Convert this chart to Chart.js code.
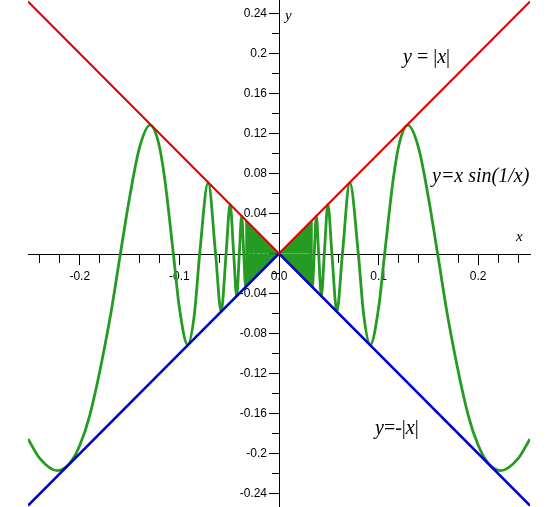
<!DOCTYPE html>
<html>
<head>
<meta charset="utf-8">
<script src="https://cdn.jsdelivr.net/npm/chart.js@4.4.1/dist/chart.umd.min.js"></script>
<style>
  html, body { margin: 0; padding: 0; background: #ffffff; }
  #wrap { width: 560px; height: 507px; }
</style>
</head>
<body>
<div id="wrap"><canvas id="c" width="560" height="507"></canvas></div>
<script>
// ---- data ----
const X_MINOR = [-0.24,-0.22,-0.2,-0.18,-0.16,-0.14,-0.12,-0.1,-0.08,-0.06,-0.04,-0.02,0,0.02,0.04,0.06,0.08,0.1,0.12,0.14,0.16,0.18,0.2,0.22,0.24];
const X_MAJOR = [-0.2,-0.1,0,0.1,0.2];
const X_LABELS = ['-0.2','-0.1','0.0','0.1','0.2'];
const Y_MINOR = [-0.24,-0.22,-0.2,-0.18,-0.16,-0.14,-0.12,-0.1,-0.08,-0.06,-0.04,-0.02,0,0.02,0.04,0.06,0.08,0.1,0.12,0.14,0.16,0.18,0.2,0.22,0.24];
const Y_MAJOR = [-0.24,-0.2,-0.16,-0.12,-0.08,-0.04,0,0.04,0.08,0.12,0.16,0.2,0.24];
const Y_LABELS = ['-0.24','-0.2','-0.16','-0.12','-0.08','-0.04','0.0','0.04','0.08','0.12','0.16','0.2','0.24'];

// green curve y = x sin(1/x): extrema, zero crossings and a few in-between points
const CURVE_X = [-0.252,-0.24,-0.2225,-0.21,-0.2,-0.19,-0.17,-0.1592,-0.15,-0.14,-0.1294,-0.121,-0.115,-0.1061,-0.1,-0.0917,-0.085,-0.0796,-0.0711,-0.0637,-0.0581,-0.0531,-0.0491,-0.0455,-0.0425,-0.0398,-0.0375,-0.0354,-0.0335,-0.0318,-0.0303,
                 0,
                 0.0303,0.0318,0.0335,0.0354,0.0375,0.0398,0.0425,0.0455,0.0491,0.0531,0.0581,0.0637,0.0711,0.0796,0.085,0.0917,0.1,0.1061,0.115,0.121,0.1294,0.14,0.15,0.1592,0.17,0.19,0.2,0.21,0.2225,0.24,0.252];
const CURVE_Y = [-0.1854,-0.2052,-0.2172,-0.2097,-0.1918,-0.1619,-0.0664,0,0.0561,0.1061,0.1284,0.1110,0.0766,0,-0.0544,-0.0913,-0.0611,0,0.0709,0,-0.0580,0,0.0490,0,-0.0425,0,0.0375,0,-0.0335,0,0.0303,
                 null,
                 0.0303,0,-0.0335,0,0.0375,0,-0.0425,0,0.0490,0,-0.0580,0,0.0709,0,-0.0611,-0.0913,-0.0544,0,0.0766,0.1110,0.1284,0.1061,0.0561,0,-0.0664,-0.1619,-0.1918,-0.2097,-0.2172,-0.2052,-0.1854];

// y = |x| and y = -|x|
const LINE_X = [-0.252, 0, 0.252];
const ABS_Y = [0.252, 0, 0.252];
const NEG_ABS_Y = [-0.252, 0, -0.252];

// densely oscillating core near the origin (appears solid green)
const CORE_X = [-0.034, 0, 0.034];
const CORE_UP = [0.034, 0, 0.034];
const CORE_DOWN = [-0.034, 0, -0.034];

// ---- styles ----
const RED = '#e00000';
const BLUE = '#0000d2';
const GREEN = '#259b24';
const SANS = '"Liberation Sans", Arial, sans-serif';
const SERIF = '"Liberation Serif", "Times New Roman", serif';

const pts = (xs, ys) => xs.map((x, i) => ({ x: x, y: ys[i] }));

function axisScale(axis, min, max, tickVals, labels, tl, pad) {
  return {
    type: 'linear', axis: axis, position: 'center', min: min, max: max, z: 1,
    afterBuildTicks: s => { s.ticks = tickVals.map(v => ({ value: v })); },
    afterFit: s => { s.paddingTop = 0; s.paddingBottom = 0; s.paddingLeft = 0; s.paddingRight = 0; },
    grid: { drawOnChartArea: false, drawTicks: true, tickLength: tl, color: '#000', lineWidth: 1 },
    border: { display: true, color: '#000', width: 1 },
    ticks: {
      display: !!labels, autoSkip: false, maxRotation: 0, minRotation: 0, padding: pad,
      color: '#000', font: { family: SANS, size: 12 },
      callback: (v, i) => labels ? labels[i] : ''
    }
  };
}

function drawRuns(ctx, x, y, runs, size) {
  for (const r of runs) {
    ctx.font = (r[1] ? 'italic ' : '') + size + 'px ' + SERIF;
    ctx.fillText(r[0], x, y);
    x += ctx.measureText(r[0]).width;
  }
}

const textPlugin = {
  id: 'texts',
  afterDraw(chart) {
    const ctx = chart.ctx;
    ctx.save();
    ctx.fillStyle = '#000';
    ctx.textBaseline = 'alphabetic';
    ctx.textAlign = 'left';
    drawRuns(ctx, 285, 20, [['y', true]], 15);
    drawRuns(ctx, 516, 241, [['x', true]], 15);
    drawRuns(ctx, 403, 63, [['y', true], [' = |', false], ['x', true], ['|', false]], 20);
    drawRuns(ctx, 432, 182, [['y=x sin(1/x)', true]], 20);
    drawRuns(ctx, 375, 434, [['y', true], ['=-|', false], ['x', true], ['|', false]], 20);
    ctx.restore();
  }
};

new Chart(document.getElementById('c'), {
  type: 'scatter',
  data: {
    datasets: [
      { label: 'y=|x|', data: pts(LINE_X, ABS_Y), showLine: true, borderColor: RED, borderWidth: 2, pointRadius: 0, fill: false },
      { label: 'y=-|x|', data: pts(LINE_X, NEG_ABS_Y), showLine: true, borderColor: BLUE, borderWidth: 2.5, pointRadius: 0, fill: false },
      { label: 'y=x sin(1/x)', data: pts(CURVE_X, CURVE_Y), showLine: true, borderColor: GREEN, borderWidth: 2.8, pointRadius: 0, cubicInterpolationMode: 'monotone', spanGaps: false, fill: false },
      { label: 'core+', data: pts(CORE_X, CORE_UP), showLine: true, borderWidth: 0, borderColor: GREEN, backgroundColor: GREEN, pointRadius: 0, fill: { value: 0 } },
      { label: 'core-', data: pts(CORE_X, CORE_DOWN), showLine: true, borderWidth: 0, borderColor: GREEN, backgroundColor: GREEN, pointRadius: 0, fill: { value: 0 } }
    ]
  },
  options: {
    responsive: false,
    animation: false,
    devicePixelRatio: 1,
    layout: { padding: { left: 28, right: 30, top: 0, bottom: 0 } },
    plugins: { legend: { display: false }, tooltip: { enabled: false } },
    scales: {
      x: axisScale('x', -0.252, 0.252, X_MINOR, null, 8, 0),
      xMajor: axisScale('x', -0.252, 0.252, X_MAJOR, X_LABELS, 10, 6),
      y: axisScale('y', -0.2535, 0.2535, Y_MINOR, null, 7, 0),
      yMajor: axisScale('y', -0.2535, 0.2535, Y_MAJOR, Y_LABELS, 10, 2)
    }
  },
  plugins: [textPlugin]
});
</script>
</body>
</html>
